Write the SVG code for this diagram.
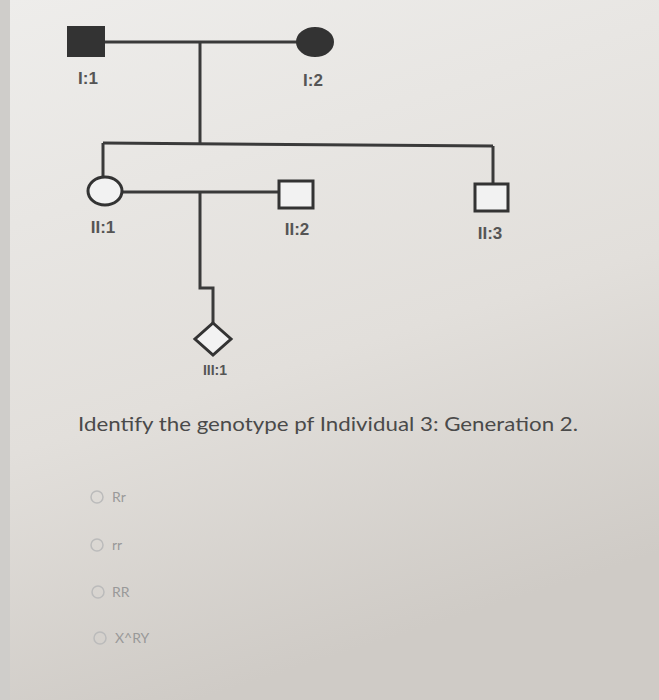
<svg xmlns="http://www.w3.org/2000/svg" width="659" height="700" viewBox="0 0 659 700">
<defs>
<linearGradient id="bg" x1="0" y1="0" x2="0.3" y2="1">
<stop offset="0" stop-color="#eeedeb"/><stop offset="0.6" stop-color="#e2dfdb"/><stop offset="1" stop-color="#cfcbc6"/>
</linearGradient>
<style>
.ln{stroke:#3a3a3a;stroke-width:3;fill:none}
.sym{stroke:#333;stroke-width:3;fill:#f2f2f2}
.aff{fill:#333;stroke:#333;stroke-width:2}
.lb{font-family:"Liberation Sans",Arial,sans-serif;font-size:17px;font-weight:bold;fill:#555;text-anchor:middle}
.q{font-family:Lato,"Open Sans",sans-serif;font-size:19px;fill:#4a4a4a}
.op{font-family:Lato,"Open Sans",sans-serif;font-size:14px;fill:#999}
.rd{fill:none;stroke:#bbb;stroke-width:1.5}
</style>
</defs>
<rect width="659" height="700" fill="url(#bg)"/>
<rect x="0" y="0" width="10" height="700" fill="#cfcdca"/>
<g id="connectors">
<path class="ln" d="M104 42H297"/>
<path class="ln" d="M200 42V144"/>
<path class="ln" d="M103 143L493 146"/>
<path class="ln" d="M103 143V177"/>
<path class="ln" d="M493 146V183"/>
<path class="ln" d="M122 192H278"/>
<path class="ln" d="M200 192V288H213V323"/>
</g>
<g id="I1"><rect class="aff" x="68" y="27" width="36" height="29"/><text class="lb" x="88" y="84">I:1</text></g>
<g id="I2"><ellipse class="aff" cx="315" cy="42" rx="18" ry="14"/><text class="lb" x="313" y="86">I:2</text></g>
<g id="II1"><ellipse class="sym" cx="105" cy="191" rx="17" ry="14"/><text class="lb" x="103" y="233">II:1</text></g>
<g id="II2"><rect class="sym" x="279" y="181" width="34" height="27"/><text class="lb" x="297" y="235">II:2</text></g>
<g id="II3"><rect class="sym" x="475" y="184" width="33" height="27"/><text class="lb" x="490" y="239">II:3</text></g>
<g id="III1"><path class="sym" d="M213 323L231 339L213 355L195 339Z"/><text class="lb" x="215" y="375" style="font-size:14px">III:1</text></g>
<text class="q" x="78" y="431" textLength="500" lengthAdjust="spacingAndGlyphs">Identify the genotype pf Individual 3: Generation 2.</text>
<g id="options">
<circle class="rd" cx="97" cy="497" r="6"/><text class="op" x="112" y="502">Rr</text>
<circle class="rd" cx="97" cy="545" r="6"/><text class="op" x="112" y="550">rr</text>
<circle class="rd" cx="98" cy="592" r="6"/><text class="op" x="112" y="597">RR</text>
<circle class="rd" cx="100" cy="638" r="6"/><text class="op" x="115" y="643">X^RY</text>
</g>
</svg>
